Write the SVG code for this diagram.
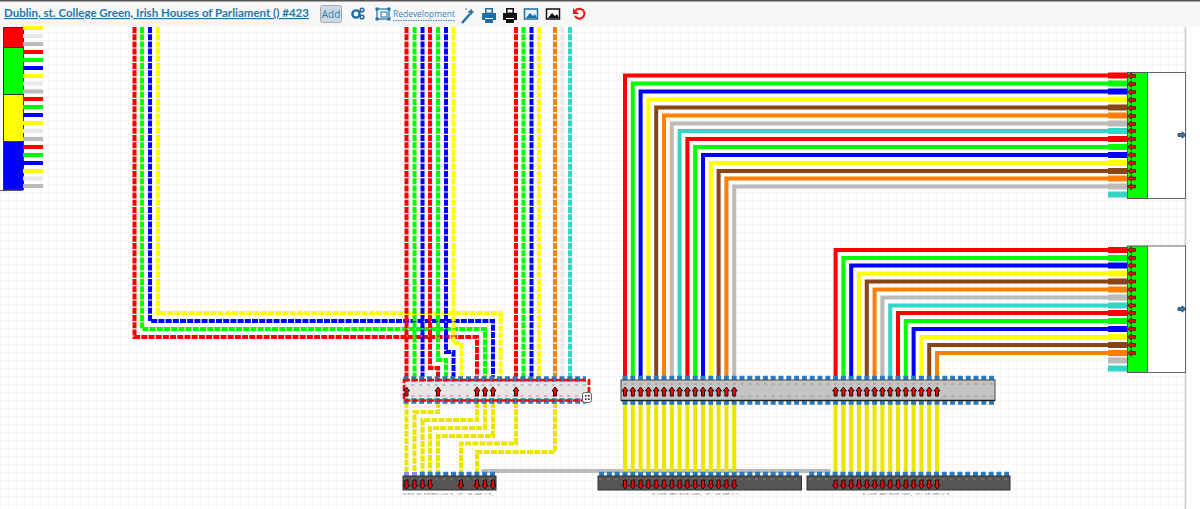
<svg xmlns="http://www.w3.org/2000/svg" width="1200" height="509" viewBox="0 0 1200 509">
<style>
.w,.d,.s{fill:none}
.w{stroke-width:4}
.d{stroke-width:4;stroke-dasharray:6 1.2}
.s{stroke-width:6}
.st{stroke-width:4;fill:none}
.r{stroke:#f00}.g{stroke:#0f0}.b{stroke:#00f}.y{stroke:#ff0}.n{stroke:#8b4513}.o{stroke:#ff8000}.a{stroke:#bbb}.t{stroke:#33d6c6}.l{stroke:#e8e8e8}.e{stroke:#ebe600}
.port{fill:none;stroke:#2a7bc4;stroke-width:5.500;stroke-dasharray:5 2.8}
.smudge{fill:none;stroke:#999;stroke-width:2;stroke-dasharray:3 4.8;opacity:.55}
.lab{font-family:"Liberation Mono",monospace;font-size:4px;fill:#777;text-anchor:middle}
.ic{fill:#1f6fa5}
.ik{fill:#111}
</style>
<defs>
<pattern id="grid" width="8" height="8" patternUnits="userSpaceOnUse">
<path d="M0 .5H8M.5 0V8" stroke="#eee" stroke-width="1" stroke-dasharray="1 1" fill="none"/>
</pattern>
<path id="au" d="M0-5 3-1H1.500V4H-1.500V-1H-3Z" fill="#f00" stroke="#111" stroke-width="1"/>
<path id="ad" d="M0 5 3 1H1.500V-4H-1.500V1H-3Z" fill="#f00" stroke="#111" stroke-width="1"/>
<path id="al" d="M-4 0 0-3.200V-1.400H4V1.400H0V3.200Z" fill="#f00" stroke="#222" stroke-width=".8"/>
<path id="ar" d="M4 0 0-3.200V-1.400H-4V1.400H0V3.200Z" fill="#2a7bc4" stroke="#333" stroke-width=".8"/>
</defs>
<rect width="1200" height="509" fill="#fff"/>
<rect x="0" y="27" width="1185" height="482" fill="url(#grid)"/>
<path d="M1185.500 27V509" stroke="#ccc" stroke-width="1.500"/>

<g id="header">
<rect width="1200" height="27" fill="#f7f7f7"/>
<rect width="1200" height="1.500" fill="#555"/>
<text x="4" y="17" font-family="Lato,'Open Sans',sans-serif" font-size="11.800" font-weight="700" fill="#1f77a8" text-decoration="underline" textLength="305" lengthAdjust="spacingAndGlyphs">Dublin, st. College Green, Irish Houses of Parliament () #423</text>
<rect x="320.500" y="5.500" width="21" height="17" rx="2" fill="#c9d9e6" stroke="#aaa"/>
<text x="331" y="17.500" text-anchor="middle" font-family="'Open Sans',sans-serif" font-size="10" fill="#3a7ca5">Add</text>
<g id="icon-gears" class="ic"><circle cx="356" cy="14" r="3.600" fill="none" stroke="#1f6fa5" stroke-width="2.400"/><circle cx="362" cy="10" r="1.800" fill="none" stroke="#1f6fa5" stroke-width="1.600"/><circle cx="362" cy="17" r="1.800" fill="none" stroke="#1f6fa5" stroke-width="1.600"/></g>
<g id="icon-redev"><rect x="377" y="9" width="12" height="10" fill="none" stroke="#1f6fa5" stroke-width="1.200"/><rect x="381" y="12" width="6" height="5" fill="none" stroke="#1f6fa5"/><rect x="375.500" y="7.500" width="3" height="3" class="ic"/><rect x="387.500" y="7.500" width="3" height="3" class="ic"/><rect x="375.500" y="17.500" width="3" height="3" class="ic"/><rect x="387.500" y="17.500" width="3" height="3" class="ic"/></g>
<text x="393" y="17" font-family="'Open Sans',sans-serif" font-size="9.800" fill="#3a86b8" textLength="62" lengthAdjust="spacingAndGlyphs">Redevelopment</text>
<path d="M393 20.500H455" stroke="#3a86b8" stroke-dasharray="1.500 1" fill="none"/>
<g id="icon-wand"><path d="M462 23 470 14" stroke="#1f6fa5" stroke-width="2.500" fill="none"/><path d="M471 9l1 2 2 1-2 1-1 2-1-2-2-1 2-1zM465 9h2M466 8v2" class="ic" stroke="#1f6fa5" stroke-width=".5"/></g>
<g id="icon-print1" class="ic"><path d="M485 8h8v5h-8zM482 13h14v7h-3v-2h-8v2h-3zM485 19h8v4h-8z"/><rect x="486.500" y="9.500" width="5" height="3" fill="#f7f7f7"/></g>
<g id="icon-print2" class="ik"><path d="M506 8h8v5h-8zM503 13h14v7h-3v-2h-8v2h-3zM506 19h8v4h-8z"/><rect x="507.500" y="9.500" width="5" height="3" fill="#f7f7f7"/></g>
<g id="icon-pic1"><rect x="524.500" y="9" width="13" height="10" fill="#eaf3f9" stroke="#1f6fa5" stroke-width="1.500"/><path d="M526 18 530 13 533 16 535 14 537 18Z" class="ic"/></g>
<g id="icon-pic2"><rect x="546.500" y="9" width="13" height="10" fill="#fff" stroke="#111" stroke-width="1.500"/><path d="M548 18 552 13 555 16 557 14 559 18Z" class="ik"/></g>
<g id="icon-undo"><path d="M575.500 10.500A5 5 0 1 1 575 16" fill="none" stroke="#f11" stroke-width="2"/><path d="M573 8v6h6Z" fill="#f11"/></g>
</g>

<g id="left-strip">
<rect x="3.500" y="27.500" width="20" height="20" fill="#f00" stroke="#333"/>
<rect x="3.500" y="47.500" width="20" height="47" fill="#0f0" stroke="#333"/>
<rect x="3.500" y="94.500" width="20" height="47" fill="#ff0" stroke="#333"/>
<rect x="3.500" y="141.500" width="20" height="48" fill="#00f" stroke="#333"/>
<path d="M0 190.500H23" stroke="#555" fill="none"/>
<g class="st">
<path class="y st" d="M23 28H43M23 76H43M23 123H43M23 171H43"/>
<path class="l st" d="M23 36H43M23 83.500H43M23 131H43M23 178.500H43"/>
<path class="a st" d="M23 44H43M23 91.500H43M23 139H43M23 186H43"/>
<path class="r st" d="M23 52H43M23 99H43M23 147H43"/>
<path class="g st" d="M23 60H43M23 107H43M23 155H43"/>
<path class="b st" d="M23 68H43M23 115H43M23 163H43"/>
</g>
</g>

<g id="connectors">
<g id="dashed-upper">
<path class="d r" d="M134.500 27V337H477V377"/>
<path class="d g" d="M142 27V329H485V377"/>
<path class="d b" d="M150 27V321H493V377"/>
<path class="d y" d="M158 27V313H500.500V377"/>
<path class="d r" d="M406.500 27V377"/>
<path class="d g" d="M414.500 27V377"/>
<path class="d b" d="M422.500 27V377"/>
<path class="d r" d="M430 27V368H438V377"/>
<path class="d g" d="M438 27V360H446V377"/>
<path class="d b" d="M446 27V352H453.500V377"/>
<path class="d y" d="M453.500 27V343H461.500V377"/>
<path class="d r" d="M516 27V377"/>
<path class="d g" d="M523.500 27V377"/>
<path class="d b" d="M531.500 27V377"/>
<path class="d y" d="M539 27V377"/>
<path class="d o" d="M555 27V377"/>
<path class="d l" d="M562.500 27V377"/>
<path class="d t" d="M570 27V377"/>
</g>
<g id="dashed-lower">
<path class="d e" d="M406.500 402V473"/>
<path class="d e" d="M438 402V412H414.500V473"/>
<path class="d e" d="M477 402V420H422.500V473"/>
<path class="d e" d="M485 402V428H430V473"/>
<path class="d e" d="M493 402V436H438V473"/>
<path class="d e" d="M516 402V443.500H461V473"/>
<path class="d e" d="M555 402V452H477V473"/>
</g>
<path class="w a" d="M483 471H829" stroke-linecap="round"/>
<g id="solid-yellow" class="w e">
<path class="w e" d="M625 404V473M632.800 404V473M640.600 404V473M648.400 404V473M656.200 404V473M664 404V473M671.800 404V473M679.600 404V473M687.400 404V473M695.200 404V473M703 404V473M710.800 404V473M718.600 404V473M726.400 404V473M734.200 404V473"/>
<path class="w e" d="M835.600 404V473M843.400 404V473M851.200 404V473M859 404V473M866.800 404V473M874.600 404V473M882.400 404V473M890.200 404V473M898 404V473M905.800 404V473M913.600 404V473M921.400 404V473M929.200 404V473M937 404V473"/>
</g>
<g id="bundle-top">
<path class="w r" d="M625 377V75.500H1108"/>
<path class="w g" d="M632.800 377V83.500H1108"/>
<path class="w b" d="M640.600 377V91.500H1108"/>
<path class="w y" d="M648.400 377V99.500H1108"/>
<path class="w n" d="M656.200 377V107.500H1108"/>
<path class="w o" d="M664 377V115.500H1108"/>
<path class="w a" d="M671.800 377V123.500H1108"/>
<path class="w t" d="M679.600 377V131H1108"/>
<path class="w r" d="M687.400 377V139H1108"/>
<path class="w g" d="M695.200 377V147H1108"/>
<path class="w b" d="M703 377V155H1108"/>
<path class="w y" d="M710.800 377V163H1108"/>
<path class="w n" d="M718.600 377V171H1108"/>
<path class="w o" d="M726.400 377V178.500H1108"/>
<path class="w a" d="M734.200 377V186.500H1108"/>
</g>
<g id="bundle-bottom">
<path class="w r" d="M835.600 377V250H1108"/>
<path class="w g" d="M843.400 377V258H1108"/>
<path class="w b" d="M851.200 377V265.500H1108"/>
<path class="w y" d="M859 377V273.500H1108"/>
<path class="w n" d="M866.800 377V281.500H1108"/>
<path class="w o" d="M874.600 377V289.500H1108"/>
<path class="w a" d="M882.400 377V297.500H1108"/>
<path class="w t" d="M890.200 377V305.500H1108"/>
<path class="w r" d="M898 377V313H1108"/>
<path class="w g" d="M905.800 377V321H1108"/>
<path class="w b" d="M913.600 377V329H1108"/>
<path class="w y" d="M921.400 377V337H1108"/>
<path class="w n" d="M929.200 377V345H1108"/>
<path class="w o" d="M937 377V353H1108"/>
</g>
<g id="stubs-top">
<path class="s r" d="M1108 75.500H1127"/><path class="s g" d="M1108 83.500H1127"/><path class="s b" d="M1108 91.500H1127"/><path class="s y" d="M1108 99.500H1127"/><path class="s n" d="M1108 107.500H1127"/><path class="s o" d="M1108 115.500H1127"/><path class="s a" d="M1108 123.500H1127"/><path class="s t" d="M1108 131H1127"/><path class="s r" d="M1108 139H1127"/><path class="s g" d="M1108 147H1127"/><path class="s b" d="M1108 155H1127"/><path class="s y" d="M1108 163H1127"/><path class="s n" d="M1108 171H1127"/><path class="s o" d="M1108 178.500H1127"/><path class="s a" d="M1108 186.500H1127"/><path class="s t" d="M1108 194.500H1127"/>
</g>
<g id="stubs-bottom">
<path class="s r" d="M1108 250H1127"/><path class="s g" d="M1108 258H1127"/><path class="s b" d="M1108 265.500H1127"/><path class="s y" d="M1108 273.500H1127"/><path class="s n" d="M1108 281.500H1127"/><path class="s o" d="M1108 289.500H1127"/><path class="s a" d="M1108 297.500H1127"/><path class="s t" d="M1108 305.500H1127"/><path class="s r" d="M1108 313H1127"/><path class="s g" d="M1108 321H1127"/><path class="s b" d="M1108 329H1127"/><path class="s y" d="M1108 337H1127"/><path class="s n" d="M1108 345H1127"/><path class="s o" d="M1108 353H1127"/><path class="s a" d="M1108 360.500H1127"/><path class="s t" d="M1108 368.500H1127"/>
</g>
</g>

<g id="panel-red">
<rect x="404" y="380" width="185" height="20.500" fill="#e6e6e6"/>
<path class="port" d="M403.500 379H586"/>
<path class="port" d="M403.500 401H586"/>
<path class="smudge" d="M403.500 385H586M403.500 396H586"/>
<rect x="404" y="380" width="185" height="20.500" fill="none" stroke="#f00" stroke-width="2.600" stroke-dasharray="6 2"/>
<use href="#au" x="406.500" y="392"/><use href="#au" x="438" y="392"/><use href="#au" x="477" y="392"/><use href="#au" x="485" y="392"/><use href="#au" x="493" y="392"/><use href="#au" x="516" y="392"/><use href="#au" x="555" y="392"/>
<rect x="582.500" y="392.500" width="9" height="10" rx="2" fill="#eee" stroke="#666"/>
<path d="M585 395h1.500v1.500H585zM588 395h1.500v1.500H588zM585 398.500h1.500v1.500H585zM588 398.500h1.500v1.500H588z" fill="#222"/>
</g>

<g id="panel-gray">
<path class="port" d="M622.500 378.500H994"/>
<path class="port" d="M622.500 402H994"/>
<rect x="621" y="380" width="374" height="20.500" fill="#c4c4c4" stroke="#444"/>
<path d="M621 400.500H995" stroke="#222" stroke-width="1.500" fill="none"/>
<path class="smudge" d="M623.500 384H994M623.500 396.500H994"/>
<use href="#au" x="625" y="392"/><use href="#au" x="632.800" y="392"/><use href="#au" x="640.600" y="392"/><use href="#au" x="648.400" y="392"/><use href="#au" x="656.200" y="392"/><use href="#au" x="664" y="392"/><use href="#au" x="671.800" y="392"/><use href="#au" x="679.600" y="392"/><use href="#au" x="687.400" y="392"/><use href="#au" x="695.200" y="392"/><use href="#au" x="703" y="392"/><use href="#au" x="710.800" y="392"/><use href="#au" x="718.600" y="392"/><use href="#au" x="726.400" y="392"/><use href="#au" x="734.200" y="392"/>
<use href="#au" x="835.600" y="392"/><use href="#au" x="843.400" y="392"/><use href="#au" x="851.200" y="392"/><use href="#au" x="859" y="392"/><use href="#au" x="866.800" y="392"/><use href="#au" x="874.600" y="392"/><use href="#au" x="882.400" y="392"/><use href="#au" x="890.200" y="392"/><use href="#au" x="898" y="392"/><use href="#au" x="905.800" y="392"/><use href="#au" x="913.600" y="392"/><use href="#au" x="921.400" y="392"/><use href="#au" x="929.200" y="392"/><use href="#au" x="937" y="392"/>
</g>

<g id="switch-cisco">
<path class="port" d="M419.800 474.500H495.500"/>
<path d="M404 474.500H409M412 474.500H417" stroke="#8888ff" stroke-width="5" fill="none"/>
<rect x="403" y="476" width="93" height="14" fill="#555" stroke="#333"/>
<path class="smudge" d="M403.500 479H495" style="stroke:#aaa;stroke-width:1"/>
<use href="#ad" x="406.500" y="484"/><use href="#ad" x="414.500" y="484"/><use href="#ad" x="422.500" y="484"/><use href="#ad" x="430" y="484"/><use href="#ad" x="461" y="484"/><use href="#ad" x="477" y="484"/><use href="#ad" x="485" y="484"/><use href="#ad" x="493" y="484"/>
<text class="lab" x="448" y="494.500">Cisco WS-C3750X-12S-E, IP: 10.195.1.5,</text>
</g>

<g id="switch-dlink-1">
<path class="port" d="M599.100 474.500H799"/>
<rect x="598" y="476" width="203.500" height="14" fill="#555" stroke="#333"/>
<path class="smudge" d="M599.100 479H799" style="stroke:#aaa;stroke-width:1"/>
<use href="#ad" x="625" y="484"/><use href="#ad" x="632.800" y="484"/><use href="#ad" x="640.600" y="484"/><use href="#ad" x="648.400" y="484"/><use href="#ad" x="656.200" y="484"/><use href="#ad" x="664" y="484"/><use href="#ad" x="671.800" y="484"/><use href="#ad" x="679.600" y="484"/><use href="#ad" x="687.400" y="484"/><use href="#ad" x="695.200" y="484"/><use href="#ad" x="703" y="484"/><use href="#ad" x="710.800" y="484"/><use href="#ad" x="718.600" y="484"/><use href="#ad" x="726.400" y="484"/><use href="#ad" x="734.200" y="484"/>
<text class="lab" x="697" y="494.500">D-Link DGS-3120-24SC, IP: 10.100.1.1,</text>
</g>

<g id="switch-dlink-2">
<path class="port" d="M809.200 474.500H1009"/>
<rect x="807" y="476" width="203" height="14" fill="#555" stroke="#333"/>
<path class="smudge" d="M809.200 479H1009" style="stroke:#aaa;stroke-width:1"/>
<use href="#ad" x="835.600" y="484"/><use href="#ad" x="843.400" y="484"/><use href="#ad" x="851.200" y="484"/><use href="#ad" x="859" y="484"/><use href="#ad" x="866.800" y="484"/><use href="#ad" x="874.600" y="484"/><use href="#ad" x="882.400" y="484"/><use href="#ad" x="890.200" y="484"/><use href="#ad" x="898" y="484"/><use href="#ad" x="905.800" y="484"/><use href="#ad" x="913.600" y="484"/><use href="#ad" x="921.400" y="484"/><use href="#ad" x="929.200" y="484"/><use href="#ad" x="937" y="484"/>
<text class="lab" x="907" y="494.500">D-Link DGS-3120-24SC, IP: 10.100.1.3,</text>
</g>

<g id="box-top">
<rect x="1127.500" y="72.500" width="20" height="126" fill="#0f0" stroke="#555"/>
<rect x="1147.500" y="72.500" width="38" height="126" fill="#fff" stroke="#666"/>
<use href="#al" x="1131.500" y="76"/><use href="#al" x="1131.500" y="84"/><use href="#al" x="1131.500" y="92"/><use href="#al" x="1131.500" y="100"/><use href="#al" x="1131.500" y="108"/><use href="#al" x="1131.500" y="116"/><use href="#al" x="1131.500" y="124"/><use href="#al" x="1131.500" y="131"/><use href="#al" x="1131.500" y="139"/><use href="#al" x="1131.500" y="147"/><use href="#al" x="1131.500" y="155"/><use href="#al" x="1131.500" y="163"/><use href="#al" x="1131.500" y="171"/><use href="#al" x="1131.500" y="178.500"/><use href="#al" x="1131.500" y="186.500"/>
<use href="#ar" x="1182" y="135"/>
</g>

<g id="box-bottom">
<rect x="1127.500" y="246" width="20" height="126.500" fill="#0f0" stroke="#555"/>
<rect x="1147.500" y="246" width="38" height="126.500" fill="#fff" stroke="#666"/>
<use href="#al" x="1131.500" y="250"/><use href="#al" x="1131.500" y="258"/><use href="#al" x="1131.500" y="265.500"/><use href="#al" x="1131.500" y="273.500"/><use href="#al" x="1131.500" y="281.500"/><use href="#al" x="1131.500" y="289.500"/><use href="#al" x="1131.500" y="297.500"/><use href="#al" x="1131.500" y="305.500"/><use href="#al" x="1131.500" y="313"/><use href="#al" x="1131.500" y="321"/><use href="#al" x="1131.500" y="329"/><use href="#al" x="1131.500" y="337"/><use href="#al" x="1131.500" y="345"/><use href="#al" x="1131.500" y="353"/>
<use href="#ar" x="1182" y="309"/>
</g>
</svg>
